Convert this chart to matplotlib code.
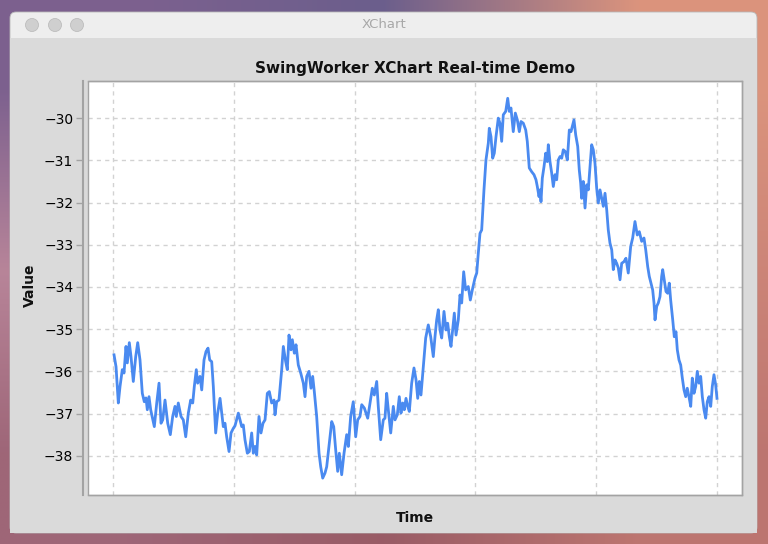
#!/usr/bin/env python3
"""
Recreation of the XChart "SwingWorker Real-time Demo" window screenshot.
A single random-walk style series, values read off the screenshot.
"""

import numpy as np
import matplotlib
matplotlib.use("Agg")
import matplotlib.pyplot as plt
from matplotlib.patches import FancyBboxPatch, Rectangle, Circle
from matplotlib.transforms import IdentityTransform

W, H = 768, 544

TIME = [
    0.17, 0.50, 0.88, 1.16, 1.54, 1.82, 2.15, 2.37, 2.70, 2.98,
    3.36, 3.76, 4.09, 4.47, 4.85, 5.18, 5.46, 5.68, 5.96, 6.24,
    6.84, 7.24, 7.62, 7.95, 8.23, 8.61, 9.06, 9.49, 9.88, 10.26,
    10.48, 10.81, 11.26, 11.64, 12.04, 12.47, 12.86, 13.20, 13.46, 13.79,
    14.02, 14.40, 14.69, 15.07, 15.40, 15.73, 16.01, 16.34, 16.61, 17.00,
    17.33, 17.72, 18.00, 18.26, 18.54, 18.82, 19.21, 19.54, 19.92,
    20.20, 20.75, 21.03, 21.31, 21.57, 21.85, 22.24, 22.57, 22.96, 23.23,
    23.51, 23.79, 24.17, 24.50, 24.83, 25.17, 25.55, 25.88, 26.27, 26.66,
    26.82, 27.10, 27.48, 27.93, 28.20, 28.59, 28.86, 29.14, 29.47, 29.69,
    30.02, 30.30, 30.68, 31.08, 31.51, 31.79, 32.07, 32.45, 32.78, 33.06,
    33.33, 33.72, 34.11, 34.39, 34.72, 35.10, 35.38, 35.76, 36.21, 36.54,
    36.87, 37.20, 37.47, 37.86, 38.25, 38.69, 38.96, 39.35, 39.78, 40.18,
    40.51, 40.89, 41.18, 41.61,
    42.17, 42.55, 42.93, 43.26, 43.66, 43.92, 44.32, 44.75, 45.03, 45.31,
    45.58, 45.98, 46.41, 46.69, 47.07, 47.40, 47.68, 47.96, 48.23, 48.51,
    48.79, 49.06, 49.45, 49.83, 50.17, 50.45, 50.71, 50.99, 51.37, 51.77,
    52.20, 52.60, 53.03, 53.31, 53.59, 53.86, 54.14, 54.42, 54.80, 55.13,
    55.41, 55.68, 55.96, 56.24, 56.51, 56.79, 57.17, 57.45, 57.73, 58.06,
    58.39, 58.82, 59.16, 59.49, 59.93, 60.22, 60.48, 60.76,
    61.04, 61.42, 61.75, 62.14, 62.30, 62.58, 62.86, 63.13, 63.41, 63.79,
    64.07, 64.35, 64.62, 65.02, 65.35, 65.61, 65.89, 66.27, 66.61, 66.94,
    67.27, 67.55, 67.93, 68.33, 68.59, 68.92, 69.32, 69.70, 70.03, 70.25,
    70.53, 70.70, 70.86, 71.08, 71.36, 71.64, 71.90, 72.07, 72.35, 72.63,
    72.90, 73.18, 73.46, 73.73, 74.01, 74.29, 74.55, 74.88, 75.22, 75.55,
    75.83, 76.04, 76.32, 76.61, 76.94, 77.20, 77.43, 77.60, 77.86, 78.15,
    78.43, 78.69, 78.97, 79.25, 79.52, 79.80, 80.08, 80.35,
    80.63, 80.91, 81.18, 81.46, 81.74, 82.00, 82.28, 82.57, 82.83, 83.11,
    83.39, 83.66, 83.94, 84.22, 84.60, 84.93, 85.31, 85.71, 86.04, 86.42,
    86.80, 87.14, 87.53, 87.91, 88.20, 88.53, 88.79, 89.07, 89.35, 89.57,
    89.74, 90.02, 90.28, 90.56, 90.84, 91.01, 91.27, 91.56, 91.84, 92.10,
    92.33, 92.67, 92.93, 93.21, 93.43, 93.71, 93.99, 94.26, 94.54, 94.82,
    95.08, 95.36, 95.65, 95.91, 96.19, 96.47, 96.74, 97.02, 97.30, 97.57,
    97.85, 98.13, 98.39, 98.68, 98.96, 99.22, 99.50, 99.78, 100.0,
]

VALUE = [
    -35.61, -35.89, -36.75, -36.36, -35.96, -36.04, -35.41, -35.80, -35.32, -35.65,
    -36.24, -35.65, -35.32, -35.73, -36.52, -36.72, -36.63, -36.91, -36.60, -36.91,
    -37.31, -36.75, -36.28, -37.23, -37.15, -36.68, -37.23, -37.50, -37.07, -36.83,
    -37.07, -36.75, -37.07, -37.15, -37.55, -36.99, -36.68, -36.75, -36.36, -35.96,
    -36.28, -36.12, -36.44, -35.73, -35.53, -35.45, -35.73, -35.77, -36.36, -37.46,
    -36.99, -36.64, -36.99, -37.31, -37.23, -37.55, -37.90, -37.46, -37.35,
    -37.29, -36.99, -37.15, -37.31, -37.27, -37.62, -37.94, -37.90, -37.46, -37.94,
    -37.78, -37.98, -37.07, -37.46, -37.23, -37.15, -36.52, -36.48, -36.75, -36.68,
    -37.03, -36.72, -36.68, -35.96, -35.41, -35.77, -35.96, -35.14, -35.49, -35.25,
    -35.57, -35.37, -35.85, -36.04, -36.28, -36.60, -36.12, -36.00, -36.40, -36.12,
    -36.48, -37.07, -37.94, -38.26, -38.53, -38.41, -38.26, -37.78, -37.19, -37.31,
    -37.86, -38.37, -37.94, -38.45, -37.94, -37.50, -37.78, -37.07, -36.72, -37.55,
    -37.15, -37.07, -36.79, -36.87,
    -37.11, -36.75, -36.40, -36.56, -36.24, -36.83, -37.62, -37.15, -37.11, -36.52,
    -36.91, -37.46, -36.83, -37.15, -37.03, -36.60, -36.99, -36.75, -36.91, -36.64,
    -36.83, -36.95, -36.28, -35.92, -36.20, -36.64, -36.24, -36.56, -35.89, -35.21,
    -34.90, -35.18, -35.65, -35.18, -34.78, -34.54, -35.02, -35.21, -34.58, -35.02,
    -34.86, -35.18, -35.41, -35.02, -34.62, -35.14, -34.78, -34.19, -34.38, -33.64,
    -34.07, -33.99, -34.31, -34.07, -33.79, -33.67, -33.20, -32.73,
    -32.65, -31.70, -30.99, -30.59, -30.24, -30.44, -30.95, -30.83, -30.44, -30.00,
    -30.12, -30.55, -29.92, -29.84, -29.53, -29.84, -29.76, -30.32, -29.88, -30.04,
    -30.32, -30.08, -30.12, -30.28, -30.55, -31.18, -31.27, -31.34, -31.46, -31.62,
    -31.86, -31.70, -31.98, -31.42, -31.15, -30.83, -31.03, -30.63, -31.03, -31.30,
    -31.62, -31.34, -31.46, -30.99, -30.91, -30.95, -30.75, -30.79, -30.99, -30.28,
    -30.32, -30.20, -30.04, -30.40, -30.67, -31.23, -31.54, -31.90, -31.50, -32.13,
    -31.58, -31.70, -31.15, -30.63, -30.75, -31.07, -31.66, -32.01,
    -31.70, -31.90, -32.09, -31.78, -32.17, -32.65, -32.96, -33.12, -33.59, -33.36,
    -33.44, -33.55, -33.83, -33.44, -33.40, -33.32, -33.67, -33.04, -32.84, -32.45,
    -32.77, -32.69, -32.92, -32.84, -33.12, -33.52, -33.75, -33.91, -34.07, -34.38,
    -34.78, -34.46, -34.38, -34.23, -33.75, -33.59, -33.83, -34.11, -34.15, -33.91,
    -34.31, -34.78, -35.18, -35.06, -35.49, -35.73, -35.85, -36.16, -36.44, -36.60,
    -36.40, -36.60, -36.83, -36.16, -36.52, -36.36, -36.00, -36.28, -36.12, -36.60,
    -36.91, -37.11, -36.72, -36.60, -36.83, -36.36, -36.08, -36.32, -36.64,
]

Y_TICKS = [-38, -37, -36, -35, -34, -33, -32, -31, -30]
X_GRID = [0, 20, 40, 60, 80, 100]

LINE_COLOR = "#4a8af0"
GRID_COLOR = "#d2d2d2"
AXIS_COLOR = "#a3a3a3"


def px(x, y):
    # screenshot pixel (top-left origin) -> display coords
    return x, H - y


def draw_window(fig):
    # wallpaper behind the window
    bg = fig.add_axes([0, 0, 1, 1], zorder=-10)
    grid = np.array([
        [[0.49, 0.38, 0.56], [0.42, 0.37, 0.55], [0.86, 0.58, 0.49]],
        [[0.72, 0.52, 0.60], [0.55, 0.42, 0.58], [0.80, 0.52, 0.47]],
        [[0.62, 0.40, 0.47], [0.60, 0.36, 0.40], [0.74, 0.46, 0.44]],
    ])
    bg.imshow(grid, aspect="auto", interpolation="bilinear", extent=[0, 1, 0, 1])
    bg.set_axis_off()

    ident = IdentityTransform()
    x0, y0 = px(10, 533)
    fig.add_artist(FancyBboxPatch((x0, y0), 747, 521,
                                  boxstyle="round,pad=0,rounding_size=6",
                                  transform=ident, fc="#eeeeee", ec="#b8b8b8",
                                  lw=0.6, zorder=1))
    cx, cy = px(10, 533)
    fig.add_artist(Rectangle((cx, cy), 747, 495, transform=ident,
                             fc="#dadada", ec="none", zorder=2))
    for lx in (32, 55, 77):
        fig.add_artist(Circle(px(lx, 25), 6.5, transform=ident,
                              fc="#cfcfcf", ec="#bdbdbd", lw=0.6, zorder=3))
    fig.text(384 / W, 1 - 25 / H, "XChart", ha="center", va="center",
             fontsize=9.5, color="#a8a8a8", zorder=3)


def main():
    fig = plt.figure(figsize=(W / 100, H / 100), dpi=100)
    draw_window(fig)

    left, right, top, bottom = 88, 742, 81, 495
    ax = fig.add_axes([left / W, 1 - bottom / H, (right - left) / W, (bottom - top) / H],
                      zorder=5)
    ax.set_facecolor("white")

    ax.plot(TIME, VALUE, color=LINE_COLOR, linewidth=2.0, solid_joinstyle="round",
            zorder=3)

    ax.set_xlim(-4.14, 104.14)
    ax.set_ylim(-38.93, -29.12)
    ax.set_xticks(X_GRID)
    ax.set_xticklabels([])
    ax.set_yticks(Y_TICKS)
    ax.set_yticklabels(["\u2212%d" % abs(v) for v in Y_TICKS],
                       fontweight="bold", fontsize=10, color="#1a1a1a")

    ax.grid(True, color=GRID_COLOR, linestyle=(0, (3, 3)), linewidth=1.0)
    ax.set_axisbelow(True)

    ax.tick_params(axis="x", length=0)
    ax.tick_params(axis="y", length=5, width=1, color=AXIS_COLOR, pad=2)

    for side in ("top", "right", "bottom"):
        ax.spines[side].set_color(AXIS_COLOR)
        ax.spines[side].set_linewidth(1.0)
    ax.spines["left"].set_position(("outward", 3.6))
    ax.spines["left"].set_color(AXIS_COLOR)
    ax.spines["left"].set_linewidth(1.5)
    ax.add_patch(Rectangle((0, 0), 1, 1, transform=ax.transAxes, fill=False,
                           ec=AXIS_COLOR, lw=1.0, clip_on=False, zorder=4))

    fig.text(415 / W, 1 - 68 / H, "SwingWorker XChart Real-time Demo",
             ha="center", va="center", fontsize=11, fontweight="bold",
             color="#111111", zorder=6)
    fig.text(30 / W, 1 - 285 / H, "Value", rotation=90, ha="center", va="center",
             fontsize=10, fontweight="bold", color="#111111", zorder=6)
    fig.text(415 / W, 1 - 518 / H, "Time", ha="center", va="center",
             fontsize=10, fontweight="bold", color="#111111", zorder=6)

    fig.savefig("out.png", dpi=100)
    plt.close(fig)


if __name__ == "__main__":
    main()
